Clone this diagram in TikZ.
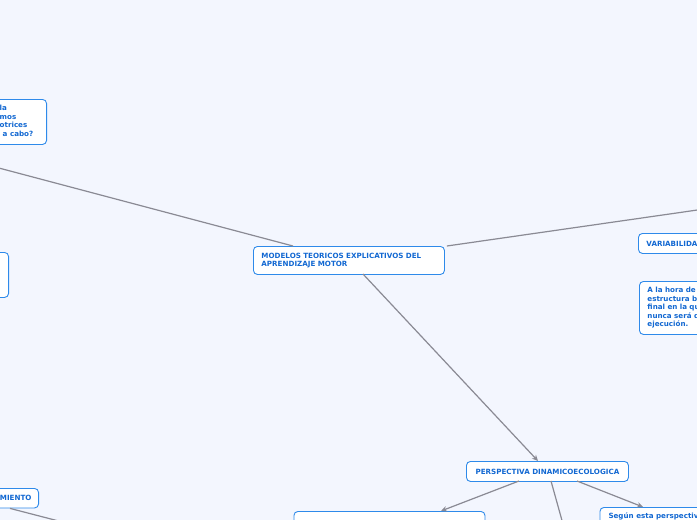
\documentclass[tikz,border=0pt]{standalone}
\usepackage{fontspec}
\setmainfont{DejaVu Sans}
\usetikzlibrary{arrows.meta}
\definecolor{fondo}{HTML}{F3F6FE}
\definecolor{borde}{HTML}{2E8AEA}
\definecolor{texto}{HTML}{1268D2}
\definecolor{linea}{HTML}{8A8A94}

\begin{document}
\begin{tikzpicture}[x=1pt,y=-1pt,
  caja/.style={draw=borde, fill=white, rounded corners=4pt, line width=0.9pt},
  rotulo/.style={font=\bfseries\fontsize{7.15}{8.5}\selectfont, text=texto, align=left},
  rama/.style={draw=linea, line width=1.2pt},
  flecha/.style={rama, -{Stealth[length=6pt,width=5.5pt]}}]
\fill[fondo] (0,0) rectangle (697,520);
\clip (0,0) rectangle (697,520);

\coordinate (arribaizq) at (-60,152.4);
\coordinate (arribader) at (760,201);
\coordinate (abajoizq) at (132,540);
\coordinate (abajocentro) at (573,560);

\node[caja, anchor=north east, minimum width=90, minimum height=45] (pregunta) at (47,99) {};
\node[rotulo, anchor=north west, inner sep=0pt] (preguntatxt) at (-0.5,105)
  {la\\mos\\otrices\\\hspace*{3pt}a cabo?};
\node[caja, anchor=north east, minimum width=60, minimum height=45] (izqmedio) at (9,252) {};
\node[caja, anchor=north east, minimum width=110, minimum height=19.5] (procesa) at (39,488) {};
\node[rotulo, anchor=east, inner sep=0pt] (procesatxt) at (31.7,497.8) {MIENTO};

\node[caja, rotulo, anchor=north west, minimum width=191, minimum height=28,
  text width=175, inner xsep=8, inner ysep=0] (modelos) at (253,246)
  {MODELOS TEORICOS EXPLICATIVOS DEL\\APRENDIZAJE MOTOR};
\node[caja, rotulo, anchor=north west, minimum width=110, minimum height=20,
  text width=94, inner xsep=8, inner ysep=0] (variab) at (638,233) {VARIABILIDAD};
\node[caja, rotulo, anchor=north west, minimum width=110, minimum height=53,
  text width=94, inner xsep=8, inner ysep=0] (alahora) at (639,281)
  {A la hora de\\estructura ba\\final en la qu\\nunca será d\\ejecución.};
\node[caja, rotulo, anchor=north west, minimum width=162, minimum height=20,
  inner xsep=8, inner ysep=0] (perspectiva) at (466,461) {PERSPECTIVA DINAMICOECOLOGICA};
\node[caja, anchor=north west, minimum width=191, minimum height=40] (cuadroabajo) at (293.5,511) {};
\node[caja, anchor=north west, minimum width=130, minimum height=40] (segun) at (599.5,507) {};
\node[rotulo, anchor=west, inner sep=0pt] (seguntxt) at (608.3,516.5) {Según esta perspectiva};

\draw[rama] (arribaizq) -- (modelos.north west -| 293,0);
\draw[rama] (modelos.north east) ++(2,0) -- (arribader);
\draw[flecha] (363,274) -- (538,461);
\draw[rama] (procesa.south -| 10,0) -- (abajoizq);
\draw[flecha] (519,481) -- (441,511);
\draw[rama] (551,481) -- (abajocentro);
\draw[flecha] (577,481) -- (643,507);
\end{tikzpicture}
\end{document}
